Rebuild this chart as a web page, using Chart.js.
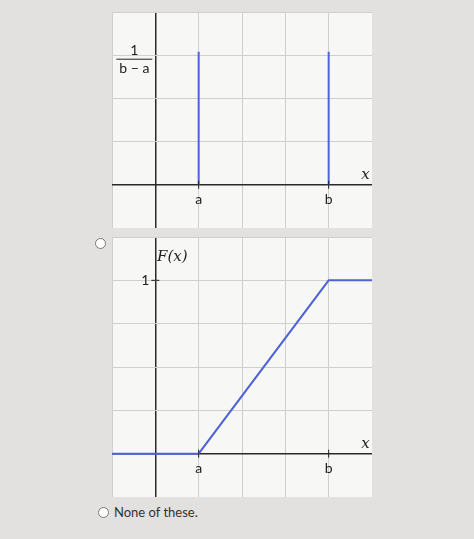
<!DOCTYPE html>
<html><head><meta charset="utf-8">
<script src="https://cdn.jsdelivr.net/npm/chart.js@4"></script>
<style>
body{margin:0;background:#e2e1df;font-family:Lato,sans-serif;width:474px;height:539px;position:relative;overflow:hidden}
.box{position:absolute;background:#f7f7f6}
.radio{position:absolute;width:9px;height:9px;border:1px solid #777;border-radius:50%;background:#fff}
#none{position:absolute;left:114px;top:504px;font-size:13px;color:#333}
</style></head><body>
<div class="box" style="left:112px;top:12px;width:260px;height:216px"><canvas id="pdf"></canvas></div>
<div class="radio" style="left:95px;top:238px"></div>
<div class="box" style="left:112px;top:237px;width:260px;height:260px"><canvas id="cdf"></canvas></div>
<div class="radio" style="left:98px;top:507px"></div>
<div id="none">None of these.</div>
<script>
// x positions of a and b, grid step in x
const xA = 1, xB = 4;
const xTicks = [-1, 0, 1, 2, 3, 4, 5];
// density plot: vertical lines at a and b of height 1/(b-a)
const pdfHeight = 0.77;
const pdfLineA = [{x: xA, y: 0}, {x: xA, y: pdfHeight}];
const pdfLineB = [{x: xB, y: 0}, {x: xB, y: pdfHeight}];
const pdfYTicks = [-0.25, 0, 0.25, 0.5, 0.75, 1];
// cumulative plot
const cdfPoints = [{x: -1, y: 0}, {x: xA, y: 0}, {x: xB, y: 1}, {x: 5, y: 1}];
const cdfYTicks = [-0.25, 0, 0.25, 0.5, 0.75, 1, 1.25];

const blue = '#4f62d6';

function gridColor(ctx) { return ctx.tick && ctx.tick.value === 0 ? '#2a2a2a' : '#cfcfcf'; }
function gridWidth(ctx) { return ctx.tick && ctx.tick.value === 0 ? 1.5 : 1; }

function labelsPlugin(items) {
    return {
        id: 'labels',
        afterDraw(chart) {
            const c = chart.ctx, sx = chart.scales.x, sy = chart.scales.y;
            c.save();
            c.fillStyle = '#222';
            c.strokeStyle = '#222';
            items.forEach(it => {
                const ax = sx.getPixelForValue(it.x), ay = sy.getPixelForValue(it.y);
                const px = ax + (it.dx || 0), py = ay + (it.dy || 0);
                if (it.tick) {
                    c.lineWidth = 1;
                    c.beginPath();
                    if (it.tick === 'x') { c.moveTo(ax, ay - 4); c.lineTo(ax, ay + 4); }
                    else { c.moveTo(ax - 4, ay); c.lineTo(ax + 4, ay); }
                    c.stroke();
                }
                if (it.frac) {
                    c.font = '14px Lato';
                    c.textAlign = 'center';
                    c.textBaseline = 'alphabetic';
                    c.fillText(it.frac[0], px, py - 4);
                    c.fillText(it.frac[1], px, py + 14);
                    c.beginPath(); c.moveTo(px - 18, py); c.lineTo(px + 18, py); c.stroke();
                } else if (it.text) {
                    c.font = it.font || '14px Lato';
                    c.textAlign = 'center';
                    c.textBaseline = 'middle';
                    c.fillText(it.text, px, py);
                }
            });
            c.restore();
        }
    };
}

function makeChart(id, datasets, yTicks, labels) {
    new Chart(document.getElementById(id), {
        type: 'scatter',
        data: {datasets},
        options: {
            responsive: true, maintainAspectRatio: false, animation: false,
            layout: {padding: 0},
            plugins: {legend: {display: false}, tooltip: {enabled: false}},
            scales: {
                x: {type: 'linear', min: xTicks[0], max: xTicks[xTicks.length - 1],
                    afterBuildTicks: s => { s.ticks = xTicks.map(v => ({value: v})); },
                    ticks: {display: false}, border: {display: false},
                    grid: {color: gridColor, lineWidth: gridWidth, drawTicks: false}},
                y: {type: 'linear', min: yTicks[0], max: yTicks[yTicks.length - 1],
                    afterBuildTicks: s => { s.ticks = yTicks.map(v => ({value: v})); },
                    ticks: {display: false}, border: {display: false},
                    grid: {color: gridColor, lineWidth: gridWidth, drawTicks: false}}
            }
        },
        plugins: [labelsPlugin(labels)]
    });
}

const line = d => ({data: d, showLine: true, borderColor: blue, borderWidth: 2, pointRadius: 0, fill: false});

makeChart('pdf', [line(pdfLineA), line(pdfLineB)], pdfYTicks, [
    {x: 0, y: 0.75, dx: -21, dy: 4, frac: ['1', 'b \u2212 a']},
    {x: xA, y: 0, dy: 15, text: 'a', tick: 'x'},
    {x: xB, y: 0, dy: 15, text: 'b', tick: 'x'},
    {x: 4.85, y: 0, dy: -10, text: 'x', font: 'italic 15px "DejaVu Serif"'}
]);

makeChart('cdf', [line(cdfPoints)], cdfYTicks, [
    {x: 0, y: 1, dx: -10, text: '1', tick: 'y'},
    {x: 0, y: 1.25, dx: 17, dy: 20, text: 'F(x)', font: 'italic 15px "DejaVu Serif"'},
    {x: xA, y: 0, dy: 15, text: 'a', tick: 'x'},
    {x: xB, y: 0, dy: 15, text: 'b', tick: 'x'},
    {x: 4.85, y: 0, dy: -10, text: 'x', font: 'italic 15px "DejaVu Serif"'}
]);
</script>
</body></html>
